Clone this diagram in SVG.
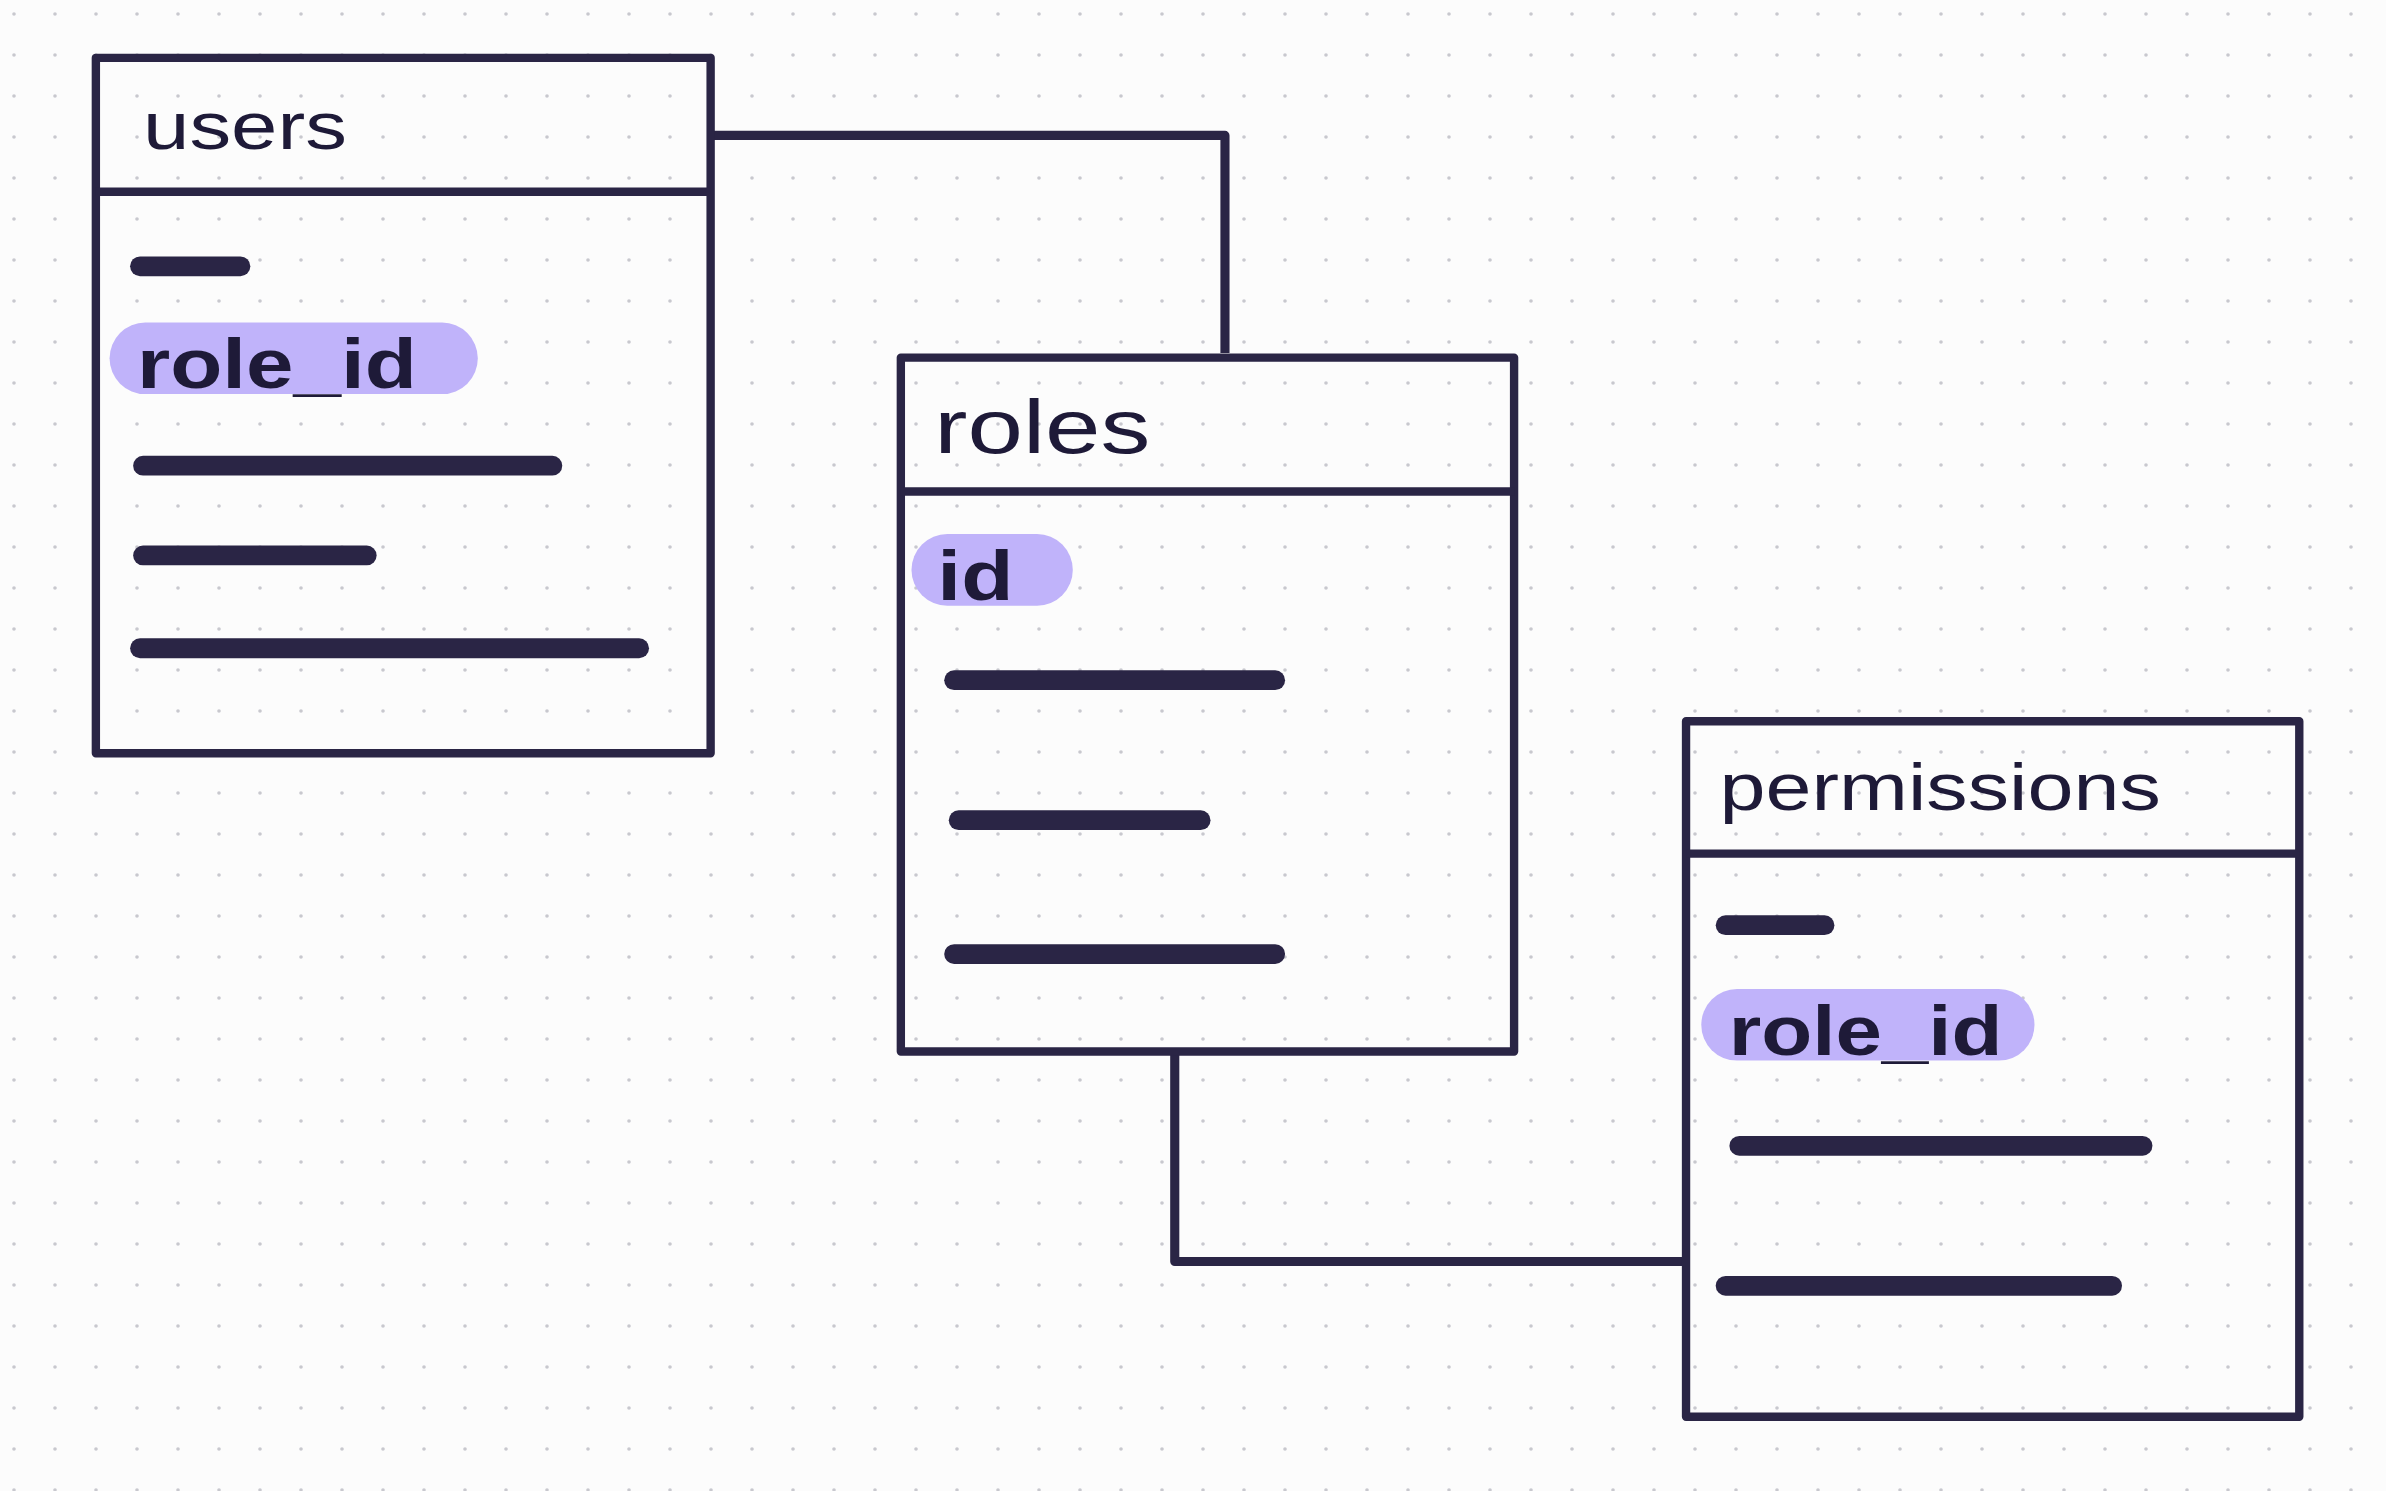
<svg xmlns="http://www.w3.org/2000/svg" width="2386" height="1491" viewBox="0 0 2386 1491">
<defs>
<pattern id="dots" width="41" height="41" patternUnits="userSpaceOnUse"><circle cx="14" cy="14" r="1.8" fill="#c8c8ce"/></pattern>
<style>
.box{fill:none;stroke:#2a2545;stroke-width:5.5;stroke-linejoin:round}
.bar{stroke:#2a2545;stroke-width:13;stroke-linecap:round}
.pill{fill:#c0b3fa}
.t{font-family:"Liberation Sans",sans-serif;fill:#1e1a38}
.h{font-size:44px}
.f{font-size:46px;font-weight:bold}
.con{fill:none;stroke:#2a2545;stroke-width:6;stroke-linejoin:round}
</style>
</defs>
<rect width="2386" height="1491" fill="#fcfcfc"/>
<rect width="2386" height="1491" fill="url(#dots)"/>
<g transform="scale(1.5217)">
<g id="connectors">
<path class="con" d="M467 89 H805 V232"/>
<path class="con" d="M772 691 V829 H1110"/>
</g>
<g id="users">
<rect class="box" x="63" y="38" width="404" height="457"/>
<line class="box" x1="63" y1="126" x2="467" y2="126"/>
<text class="t h" x="94" y="98" textLength="134" lengthAdjust="spacingAndGlyphs">users</text>
<line class="bar" x1="92" y1="175" x2="158" y2="175"/>
<rect class="pill" x="72" y="212" width="242" height="47" rx="23.5"/>
<text class="t f" x="90" y="255" textLength="184" lengthAdjust="spacingAndGlyphs">role_id</text>
<line class="bar" x1="94" y1="306" x2="363" y2="306"/>
<line class="bar" x1="94" y1="365" x2="241" y2="365"/>
<line class="bar" x1="92" y1="426" x2="420" y2="426"/>
</g>
<g id="roles">
<rect class="box" x="592" y="235" width="403" height="456"/>
<line class="box" x1="592" y1="323" x2="995" y2="323"/>
<text class="t h" x="614" y="298" style="font-size:50px" textLength="142" lengthAdjust="spacingAndGlyphs">roles</text>
<rect class="pill" x="599" y="351" width="106" height="47" rx="23.5"/>
<text class="t f" x="616" y="394" textLength="50" lengthAdjust="spacingAndGlyphs">id</text>
<line class="bar" x1="627" y1="447" x2="838" y2="447"/>
<line class="bar" x1="630" y1="539" x2="789" y2="539"/>
<line class="bar" x1="627" y1="627" x2="838" y2="627"/>
</g>
<g id="permissions">
<rect class="box" x="1108" y="474" width="403" height="457"/>
<line class="box" x1="1108" y1="561" x2="1511" y2="561"/>
<text class="t h" x="1130" y="532" textLength="290" lengthAdjust="spacingAndGlyphs">permissions</text>
<line class="bar" x1="1134" y1="608" x2="1199" y2="608"/>
<rect class="pill" x="1118" y="650" width="219" height="47" rx="23.5"/>
<text class="t f" x="1136" y="693" textLength="180" lengthAdjust="spacingAndGlyphs">role_id</text>
<line class="bar" x1="1143" y1="753" x2="1408" y2="753"/>
<line class="bar" x1="1134" y1="845" x2="1388" y2="845"/>
</g>
</g>
</svg>
